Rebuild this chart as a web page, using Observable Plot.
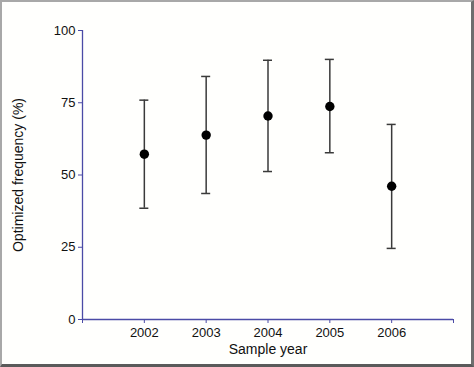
<!DOCTYPE html>
<html>
<head>
<meta charset="utf-8">
<script src="https://cdn.jsdelivr.net/npm/d3@7"></script>
<script src="https://cdn.jsdelivr.net/npm/@observablehq/plot@0.6"></script>
<style>
  html, body { margin: 0; padding: 0; background: #fff; }
  #wrap { position: relative; width: 474px; height: 367px; overflow: hidden; background: #fffffd; }
  #frame { position: absolute; left: 0; top: 0; width: 474px; height: 367px; box-sizing: border-box;
    border-left: 2px solid #a8a8a8; border-top: 2px solid #a8a8a8;
    border-right: 3px solid #6e6e6e; border-bottom: 3px solid #5a5a5a; pointer-events: none; }
</style>
</head>
<body>
<div id="wrap"><div id="frame"></div></div>
<script>
const years = [2002, 2003, 2004, 2005, 2006];
const means = [57.2, 63.8, 70.4, 73.7, 46.1];
const lowers = [38.5, 43.6, 51.2, 57.7, 24.6];
const uppers = [75.9, 84.1, 89.7, 90.0, 67.5];
const yTicks = [0, 25, 50, 75, 100];
const xTicks = [2001, 2002, 2003, 2004, 2005, 2006, 2007];

const data = years.map((y, i) => ({year: y, mean: means[i], lo: lowers[i], hi: uppers[i]}));
const axisColor = "#4b4ba6";
const barColor = "#3a3a3a";
const capHalf = 0.073;

const chart = Plot.plot({
  width: 474,
  height: 367,
  marginLeft: 82,
  marginRight: 21,
  marginTop: 30,
  marginBottom: 48,
  style: {fontFamily: "'Liberation Sans', Arial, Helvetica, sans-serif", fontSize: "13px", color: "#111", background: "transparent"},
  x: {domain: [2001, 2007]},
  y: {domain: [0, 100]},
  marks: [
    Plot.axisY({ticks: yTicks, tickSize: 4, tickPadding: 3, stroke: axisColor, fill: "#111", label: null, fontSize: 13}),
    Plot.axisX({ticks: xTicks, tickSize: 4, tickPadding: 4, stroke: axisColor, fill: "#111", label: null, fontSize: 13,
      tickFormat: d => (d === 2001 || d === 2007) ? "" : String(d)}),
    Plot.ruleX([2001], {y1: 0, y2: 100, stroke: axisColor, strokeWidth: 1.3}),
    Plot.ruleY([0], {x1: 2001, x2: 2007, stroke: axisColor, strokeWidth: 1.3}),
    Plot.ruleX(data, {x: "year", y1: "lo", y2: "hi", stroke: barColor, strokeWidth: 1.5}),
    Plot.ruleY(data, {y: "hi", x1: d => d.year - capHalf, x2: d => d.year + capHalf, stroke: barColor, strokeWidth: 1.5}),
    Plot.ruleY(data, {y: "lo", x1: d => d.year - capHalf, x2: d => d.year + capHalf, stroke: barColor, strokeWidth: 1.5}),
    Plot.dot(data, {x: "year", y: "mean", r: 4.7, fill: "#000", stroke: "none"}),
    Plot.text(["Sample year"], {frameAnchor: "bottom", lineAnchor: "middle", dy: 30, fontSize: 14, fill: "#111", textAnchor: "middle"}),
    Plot.text(["Optimized frequency (%)"], {frameAnchor: "left", lineAnchor: "middle", textAnchor: "middle", dx: -64, rotate: -90, fontSize: 14, fill: "#111"})
  ]
});
document.getElementById("wrap").insertBefore(chart, document.getElementById("frame"));
</script>
</body>
</html>
